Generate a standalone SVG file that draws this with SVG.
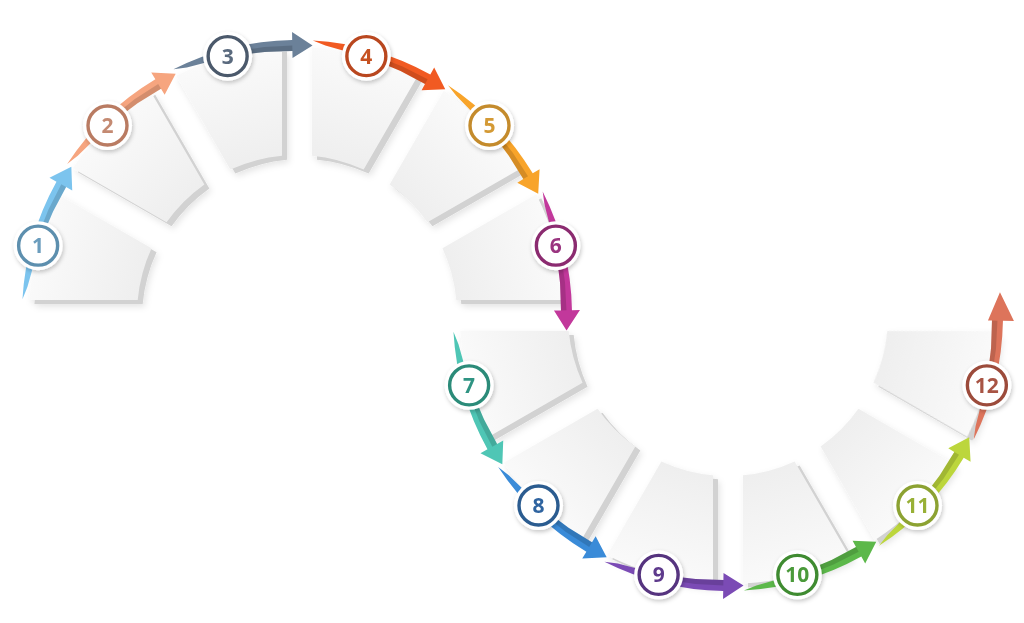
<svg xmlns="http://www.w3.org/2000/svg" xmlns:xlink="http://www.w3.org/1999/xlink" width="1024" height="623" viewBox="0 0 1024 623">
<style>
  .band { fill: #d2d2d2; }
  .panel { fill: url(#pg); }
  .disc { fill: #ffffff; }
  .ring { fill: none; stroke-width: 3.4; }
  .shade { fill: #000000; fill-opacity: 0.14; }
  .num { font-family: "Open Sans", "Liberation Sans", sans-serif; font-weight: 700; font-size: 21px; text-anchor: middle; }
</style>
<defs>
  <linearGradient id="pg" gradientUnits="userSpaceOnUse" x1="155" y1="0" x2="268" y2="0">
    <stop offset="0" stop-color="#eeeeee"/>
    <stop offset="1" stop-color="#fafafa"/>
  </linearGradient>
  <filter id="psh" x="-10%" y="-10%" width="120%" height="120%">
    <feDropShadow dx="2" dy="3" stdDeviation="3" flood-color="#000" flood-opacity="0.10"/>
  </filter>
  <filter id="csh" x="-30%" y="-30%" width="160%" height="160%">
    <feDropShadow dx="1" dy="2" stdDeviation="2" flood-color="#000" flood-opacity="0.22"/>
  </filter>
  <path id="panelShape" d="M262.35,-54.77 A268,268 0 0 1 262.35,54.77 L157.75,26.74 A160,160 0 0 0 157.75,-26.74 Z"/>
  <path id="arrowShape" d="M274.54,15.83 A275,275 0 0 1 240.52,133.32 L247.52,137.20 L225.67,148.24 L224.78,124.60 L230.90,127.99 L243.93,103.54 L254.85,77.92 L263.08,51.14 L269.51,28.33 Z"/>
  <path id="arrowLast" d="M274.54,15.83 A275,275 0 0 1 240.52,133.32 L250.14,138.66 L223.63,156.59 L227.40,126.05 L230.90,127.99 L243.93,103.54 L254.85,77.92 L263.08,51.14 L269.51,28.33 Z"/>
  <path id="arrowShade" d="M258.92,79.16 L248.54,105.50 L235.71,130.66 L230.90,127.99 L243.93,103.54 L254.85,77.92 Z"/>
</defs>

<g id="panels" filter="url(#psh)">
  <g id="panel-bands" transform="translate(5,4)">
    <use xlink:href="#panelShape" class="band" transform="translate(297,315) rotate(195)"/>
    <use xlink:href="#panelShape" class="band" transform="translate(297,315) rotate(225)"/>
    <use xlink:href="#panelShape" class="band" transform="translate(297,315) rotate(255)"/>
    <use xlink:href="#panelShape" class="band" transform="translate(297,315) rotate(285)"/>
    <use xlink:href="#panelShape" class="band" transform="translate(297,315) rotate(315)"/>
    <use xlink:href="#panelShape" class="band" transform="translate(297,315) rotate(345)"/>
    <use xlink:href="#panelShape" class="band" transform="translate(728,316) rotate(165)"/>
    <use xlink:href="#panelShape" class="band" transform="translate(728,316) rotate(135)"/>
    <use xlink:href="#panelShape" class="band" transform="translate(728,316) rotate(105)"/>
    <use xlink:href="#panelShape" class="band" transform="translate(728,316) rotate(75)"/>
    <use xlink:href="#panelShape" class="band" transform="translate(728,316) rotate(45)"/>
    <use xlink:href="#panelShape" class="band" transform="translate(728,316) rotate(15)"/>
  </g>
  <use id="panel-1" xlink:href="#panelShape" class="panel" transform="translate(297,315) rotate(195)"/>
  <use id="panel-2" xlink:href="#panelShape" class="panel" transform="translate(297,315) rotate(225)"/>
  <use id="panel-3" xlink:href="#panelShape" class="panel" transform="translate(297,315) rotate(255)"/>
  <use id="panel-4" xlink:href="#panelShape" class="panel" transform="translate(297,315) rotate(285)"/>
  <use id="panel-5" xlink:href="#panelShape" class="panel" transform="translate(297,315) rotate(315)"/>
  <use id="panel-6" xlink:href="#panelShape" class="panel" transform="translate(297,315) rotate(345)"/>
  <use id="panel-7" xlink:href="#panelShape" class="panel" transform="translate(728,316) rotate(165)"/>
  <use id="panel-8" xlink:href="#panelShape" class="panel" transform="translate(728,316) rotate(135)"/>
  <use id="panel-9" xlink:href="#panelShape" class="panel" transform="translate(728,316) rotate(105)"/>
  <use id="panel-10" xlink:href="#panelShape" class="panel" transform="translate(728,316) rotate(75)"/>
  <use id="panel-11" xlink:href="#panelShape" class="panel" transform="translate(728,316) rotate(45)"/>
  <use id="panel-12" xlink:href="#panelShape" class="panel" transform="translate(728,316) rotate(15)"/>
</g>

<g id="connectors">
  <g id="arrow-1" transform="translate(297,315) rotate(180)"><use xlink:href="#arrowShape" fill="#7cc4ee"/><use xlink:href="#arrowShade" class="shade"/></g>
  <g id="arrow-2" transform="translate(297,315) rotate(210)"><use xlink:href="#arrowShape" fill="#f6a57f"/><use xlink:href="#arrowShade" class="shade"/></g>
  <g id="arrow-3" transform="translate(297,315) rotate(240)"><use xlink:href="#arrowShape" fill="#6b8199"/><use xlink:href="#arrowShade" class="shade"/></g>
  <g id="arrow-4" transform="translate(297,315) rotate(270)"><use xlink:href="#arrowShape" fill="#f15a22"/><use xlink:href="#arrowShade" class="shade"/></g>
  <g id="arrow-5" transform="translate(297,315) rotate(300)"><use xlink:href="#arrowShape" fill="#f8a42a"/><use xlink:href="#arrowShade" class="shade"/></g>
  <g id="arrow-6" transform="translate(297,315) rotate(330)"><use xlink:href="#arrowShape" fill="#c2389b"/><use xlink:href="#arrowShade" class="shade"/></g>
  <g id="arrow-7" transform="translate(728,316) scale(1,-1) rotate(180)"><use xlink:href="#arrowShape" fill="#4fc6b5"/><use xlink:href="#arrowShade" class="shade"/></g>
  <g id="arrow-8" transform="translate(728,316) scale(1,-1) rotate(210)"><use xlink:href="#arrowShape" fill="#3a8bd8"/><use xlink:href="#arrowShade" class="shade"/></g>
  <g id="arrow-9" transform="translate(728,316) scale(1,-1) rotate(240)"><use xlink:href="#arrowShape" fill="#7b4bb5"/><use xlink:href="#arrowShade" class="shade"/></g>
  <g id="arrow-10" transform="translate(728,316) scale(1,-1) rotate(270)"><use xlink:href="#arrowShape" fill="#5cb84a"/><use xlink:href="#arrowShade" class="shade"/></g>
  <g id="arrow-11" transform="translate(728,316) scale(1,-1) rotate(300)"><use xlink:href="#arrowShape" fill="#bcd63c"/><use xlink:href="#arrowShade" class="shade"/></g>
  <g id="arrow-12" transform="translate(728,316) scale(1,-1) rotate(330)"><use xlink:href="#arrowLast" fill="#dd745b"/><use xlink:href="#arrowShade" class="shade"/></g>
</g>

<g id="nodes">
  <g id="step-1"><circle class="disc" cx="38.13" cy="245.64" r="24.5" filter="url(#csh)"/><circle class="ring" cx="38.13" cy="245.64" r="19.5" stroke="#5d8fae"/><text class="num" x="38.13" y="253" fill="#6b9dbd">1</text></g>
  <g id="step-2"><circle class="disc" cx="107.5" cy="125.5" r="24.5" filter="url(#csh)"/><circle class="ring" cx="107.5" cy="125.5" r="19.5" stroke="#b97b62"/><text class="num" x="107.5" y="132.9" fill="#c48a72">2</text></g>
  <g id="step-3"><circle class="disc" cx="227.64" cy="56.13" r="24.5" filter="url(#csh)"/><circle class="ring" cx="227.64" cy="56.13" r="19.5" stroke="#4b596b"/><text class="num" x="227.64" y="63.5" fill="#5a6a7e">3</text></g>
  <g id="step-4"><circle class="disc" cx="366.36" cy="56.13" r="24.5" filter="url(#csh)"/><circle class="ring" cx="366.36" cy="56.13" r="19.5" stroke="#b9471f"/><text class="num" x="366.36" y="63.5" fill="#c65222">4</text></g>
  <g id="step-5"><circle class="disc" cx="489.5" cy="125.5" r="24.5" filter="url(#csh)"/><circle class="ring" cx="489.5" cy="125.5" r="19.5" stroke="#c48b2c"/><text class="num" x="489.5" y="132.9" fill="#d49a35">5</text></g>
  <g id="step-6"><circle class="disc" cx="555.87" cy="245.64" r="24.5" filter="url(#csh)"/><circle class="ring" cx="555.87" cy="245.64" r="19.5" stroke="#8b2b70"/><text class="num" x="555.87" y="253" fill="#9a3580">6</text></g>
  <g id="step-7"><circle class="disc" cx="469.13" cy="385.36" r="24.5" filter="url(#csh)"/><circle class="ring" cx="469.13" cy="385.36" r="19.5" stroke="#2b8b79"/><text class="num" x="469.13" y="392.7" fill="#2f9483">7</text></g>
  <g id="step-8"><circle class="disc" cx="538.5" cy="505.5" r="24.5" filter="url(#csh)"/><circle class="ring" cx="538.5" cy="505.5" r="19.5" stroke="#2b5c90"/><text class="num" x="538.5" y="512.9" fill="#2f64a0">8</text></g>
  <g id="step-9"><circle class="disc" cx="658.64" cy="574.87" r="24.5" filter="url(#csh)"/><circle class="ring" cx="658.64" cy="574.87" r="19.5" stroke="#56347f"/><text class="num" x="658.64" y="582.2" fill="#5e3a8c">9</text></g>
  <g id="step-10"><circle class="disc" cx="797.36" cy="574.87" r="24.5" filter="url(#csh)"/><circle class="ring" cx="797.36" cy="574.87" r="19.5" stroke="#3f8b31"/><text class="num" x="797.36" y="582.2" fill="#4a9a3a">10</text></g>
  <g id="step-11"><circle class="disc" cx="917.5" cy="505.5" r="24.5" filter="url(#csh)"/><circle class="ring" cx="917.5" cy="505.5" r="19.5" stroke="#8ca232"/><text class="num" x="917.5" y="512.9" fill="#98b036">11</text></g>
  <g id="step-12"><circle class="disc" cx="986.87" cy="385.36" r="24.5" filter="url(#csh)"/><circle class="ring" cx="986.87" cy="385.36" r="19.5" stroke="#9c4b3b"/><text class="num" x="986.87" y="392.7" fill="#a85444">12</text></g>
</g>
</svg>
